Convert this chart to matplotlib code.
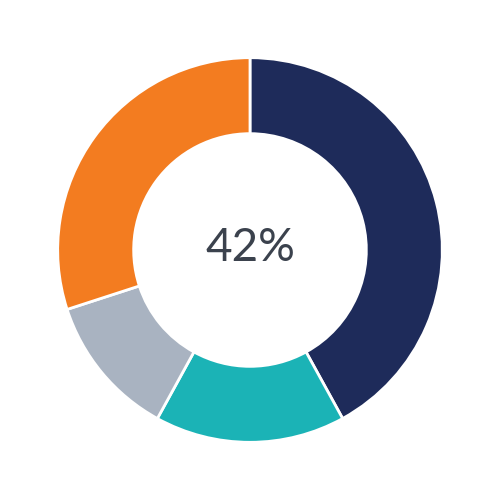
import matplotlib
matplotlib.use('Agg')
import matplotlib.pyplot as plt

labels = ['Navy', 'Teal', 'Gray', 'Orange']
values = [42, 16, 12, 30]
colors = ['#1e2b5a', '#1bb3b6', '#a9b3c1', '#f37c20']
center_label = '42%'

fig = plt.figure(figsize=(5, 5), dpi=100)
ax = fig.add_axes([0, 0, 1, 1])
ax.pie(values, colors=colors, startangle=90, counterclock=False,
       wedgeprops=dict(width=0.395, edgecolor='white', linewidth=2))
ax.text(0, 0.01, center_label, ha='center', va='center', fontsize=33,
        color='#3b424d', family=['Lato', 'DejaVu Sans'], fontweight='normal')
ax.set_xlim(-1.3, 1.3)
ax.set_ylim(-1.3, 1.3)
ax.set_aspect('equal')
ax.axis('off')

plt.savefig('out.png', dpi=100, facecolor='white')
